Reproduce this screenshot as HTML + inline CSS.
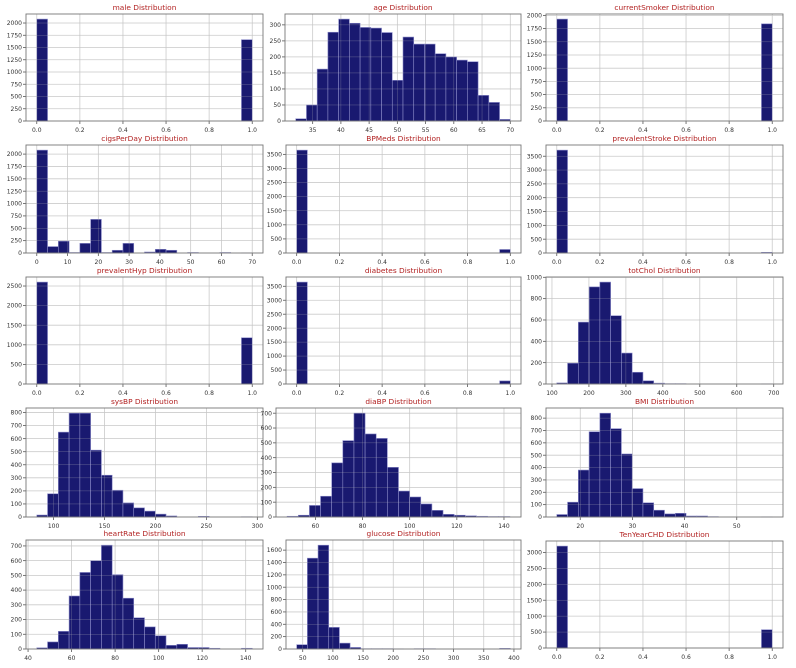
<!DOCTYPE html>
<html><head><meta charset="utf-8">
<style>
html,body{margin:0;padding:0;background:#fff;}
svg{display:block;font-family:"DejaVu Sans","Liberation Sans",sans-serif;}
</style></head>
<body>
<svg id="fig" width="796" height="668" viewBox="0 0 796 668" xmlns="http://www.w3.org/2000/svg"></svg>
<script>
// ---- data arrays (20 bins each) ----
const maleCounts = [2080,0,0,0,0,0,0,0,0,0,0,0,0,0,0,0,0,0,0,1660];
const ageCounts = [7,50,162,277,318,305,292,290,276,127,262,240,240,210,200,190,185,80,58,5];
const smokerCounts = [1930,0,0,0,0,0,0,0,0,0,0,0,0,0,0,0,0,0,0,1840];
const cigsCounts = [2080,130,240,10,195,680,10,55,195,0,20,75,55,0,10,0,0,10,0,2];
const bpmedsCounts = [3650,0,0,0,0,0,0,0,0,0,0,0,0,0,0,0,0,0,0,125];
const strokeCounts = [3720,0,0,0,0,0,0,0,0,0,0,0,0,0,0,0,0,0,0,25];
const hypCounts = [2600,0,0,0,0,0,0,0,0,0,0,0,0,0,0,0,0,0,0,1180];
const diabetesCounts = [3650,0,0,0,0,0,0,0,0,0,0,0,0,0,0,0,0,0,0,110];
const cholCounts = [10,195,580,910,955,640,290,110,30,8,3,3,0,0,0,0,0,0,0,1];
const sysCounts = [15,178,650,795,795,512,320,205,108,70,45,22,8,0,0,5,0,0,0,2];
const diaCounts = [5,12,78,140,365,515,700,560,530,335,175,135,88,45,18,12,8,5,3,3];
const bmiCounts = [20,120,380,690,840,715,510,230,115,55,25,30,8,8,3,0,0,0,0,1];
const hrCounts = [8,48,120,360,520,600,705,505,345,212,150,90,25,32,10,10,5,0,0,5];
const gluCounts = [70,1470,1680,350,95,25,5,5,5,3,0,5,5,0,0,0,0,0,0,10];
const chdCounts = [3200,0,0,0,0,0,0,0,0,0,0,0,0,0,0,0,0,0,0,575];

const binaryTicks = [0,0.2,0.4,0.6,0.8,1.0];
const binaryTickLabels = ["0.0","0.2","0.4","0.6","0.8","1.0"];
const ageTicks = [35,40,45,50,55,60,65,70];
const cigsTicks = [0,10,20,30,40,50,60,70];
const cholTicks = [100,200,300,400,500,600,700];
const sysTicks = [100,150,200,250,300];
const diaTicks = [60,80,100,120,140];
const bmiTicks = [20,30,40,50];
const hrTicks = [40,60,80,100,120,140];
const gluTicks = [50,100,150,200,250,300,350,400];

const y2000 = [0,250,500,750,1000,1250,1500,1750,2000];
const y300 = [0,50,100,150,200,250,300];
const y3500 = [0,500,1000,1500,2000,2500,3000,3500];
const y2500 = [0,500,1000,1500,2000,2500];
const y1000 = [0,200,400,600,800,1000];
const y800 = [0,100,200,300,400,500,600,700,800];
const y700 = [0,100,200,300,400,500,600,700];
const y1600 = [0,200,400,600,800,1000,1200,1400,1600];
const y3000 = [0,500,1000,1500,2000,2500,3000];

const panels = [
 {name:"male",counts:maleCounts,lo:0,hi:1,xt:binaryTicks,xl:binaryTickLabels,yt:y2000,box:[26,14,263,121]},
 {name:"age",counts:ageCounts,lo:32,hi:70,xt:ageTicks,yt:y300,box:[285,14,521,121]},
 {name:"currentSmoker",counts:smokerCounts,lo:0,hi:1,xt:binaryTicks,xl:binaryTickLabels,yt:y2000,box:[546,14,783,121]},
 {name:"cigsPerDay",counts:cigsCounts,lo:0,hi:70,xt:cigsTicks,yt:y2000,box:[26,145,263,253]},
 {name:"BPMeds",counts:bpmedsCounts,lo:0,hi:1,xt:binaryTicks,xl:binaryTickLabels,yt:y3500,box:[286,145,521,253]},
 {name:"prevalentStroke",counts:strokeCounts,lo:0,hi:1,xt:binaryTicks,xl:binaryTickLabels,yt:y3500,box:[546,145,783,253]},
 {name:"prevalentHyp",counts:hypCounts,lo:0,hi:1,xt:binaryTicks,xl:binaryTickLabels,yt:y2500,box:[26,277,263,384]},
 {name:"diabetes",counts:diabetesCounts,lo:0,hi:1,xt:binaryTicks,xl:binaryTickLabels,yt:y3500,box:[286,277,521,384]},
 {name:"totChol",counts:cholCounts,lo:113,hi:696,xt:cholTicks,yt:y1000,box:[546,277,783,384]},
 {name:"sysBP",counts:sysCounts,lo:83.5,hi:295,xt:sysTicks,yt:y800,box:[26,408,263,517]},
 {name:"diaBP",counts:diaCounts,lo:48,hi:142.5,xt:diaTicks,yt:y700,box:[276,408,521,517]},
 {name:"BMI",counts:bmiCounts,lo:15.5,hi:56.8,xt:bmiTicks,yt:y800,box:[546,408,783,517]},
 {name:"heartRate",counts:hrCounts,lo:44,hi:143,xt:hrTicks,yt:y700,box:[26,540,263,649]},
 {name:"glucose",counts:gluCounts,lo:40,hi:394,xt:gluTicks,yt:y1600,box:[286,540,521,649]},
 {name:"TenYearCHD",counts:chdCounts,lo:0,hi:1,xt:binaryTicks,xl:binaryTickLabels,yt:y3000,box:[546,541,783,648]}
];

const NS="http://www.w3.org/2000/svg";
const svg=document.getElementById("fig");
function mk(tag,attrs,parent){const e=document.createElementNS(NS,tag);for(const k in attrs)e.setAttribute(k,attrs[k]);parent.appendChild(e);return e;}

panels.forEach(p=>{
  const [L,T,R,B]=p.box;
  const g=mk("g",{},svg);
  
  
  const span=p.hi-p.lo;
  const x0=p.lo-0.05*span, x1=p.hi+0.05*span;
  const ymax=Math.max(...p.counts)*1.05;
  const xs=v=>L+(v-x0)/(x1-x0)*(R-L);
  const ys=v=>B-(v/ymax)*(B-T);
  p.xt.forEach((t,i)=>{
    const X=xs(t);
    const gl=mk("line",{x1:X,x2:X,y1:T,y2:B,stroke:"#d4d4d4","stroke-width":0.8},g);
    
    
    mk("line",{x1:X,x2:X,y1:B,y2:B+3,stroke:"#555","stroke-width":0.8},g);
    const tx=mk("text",{x:X,y:B+11,"font-size":"6","text-anchor":"middle",fill:"#333"},g);
    
    
    tx.textContent=p.xl?p.xl[i]:String(t);
  });
  p.yt.forEach(t=>{
    const Y=ys(t);
    if(Y<T-0.5)return;
    const gl=mk("line",{x1:L,x2:R,y1:Y,y2:Y,stroke:"#d4d4d4","stroke-width":0.8},g);
    
    
    mk("line",{x1:L-3,x2:L,y1:Y,y2:Y,stroke:"#555","stroke-width":0.8},g);
    const tx=mk("text",{x:L-4,y:Y+2.1,"font-size":"6","text-anchor":"end",fill:"#333"},g);
    
    
    tx.textContent=String(t);
  });
  const w=span/p.counts.length;
  p.counts.forEach((c,i)=>{
    if(c<=0)return;
    const a=xs(p.lo+i*w), b=xs(p.lo+(i+1)*w);
    const r=mk("rect",{x:a,y:ys(c),width:b-a,height:B-ys(c),fill:"#191970",stroke:"#8a8ac8","stroke-width":0.6},g);
    
    
  });
  p.xt.forEach(t=>{const X=xs(t);mk("line",{x1:X,x2:X,y1:T,y2:B,stroke:"#b8b8b8","stroke-width":0.5,"stroke-opacity":0.45},g);});
  p.yt.forEach(t=>{const Y=ys(t);if(Y<T-0.5)return;mk("line",{x1:L,x2:R,y1:Y,y2:Y,stroke:"#b8b8b8","stroke-width":0.5,"stroke-opacity":0.45},g);});
  const fr=mk("rect",{x:L,y:T,width:R-L,height:B-T,fill:"none",stroke:"#777","stroke-width":0.9},g);
  
  
  const ti=mk("text",{x:(L+R)/2,y:T-4,"font-size":"7.4","text-anchor":"middle",fill:"#b22222"},g);
  
  
  ti.textContent=p.name+" Distribution";
});
</script>
</body></html>
